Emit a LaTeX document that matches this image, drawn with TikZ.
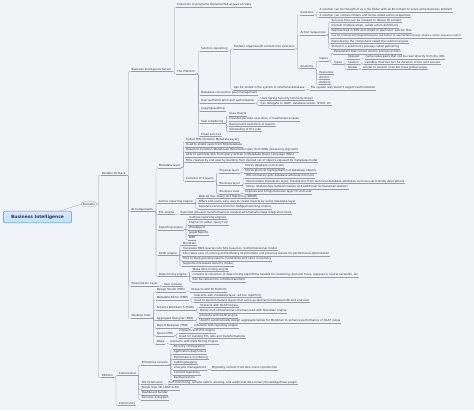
\documentclass[tikz,border=0pt]{standalone}
\usepackage{fontspec}
\newfontfamily\xf{DejaVu Sans}
\definecolor{bg}{HTML}{F2F3F7}
\definecolor{txt}{HTML}{333333}
\definecolor{lc}{HTML}{9A9DA5}
\definecolor{rootb}{HTML}{5E8FC0}
\definecolor{roott}{HTML}{22364F}
\tikzset{
 t/.style={anchor=west, font=\xf\fontsize{2.8}{3.3}\selectfont, text=txt, inner xsep=0.6pt, inner ysep=0.5pt, text height=2.1pt, text depth=0.6pt},
 ln/.style={draw=lc, line width=0.3pt, rounded corners=0.8pt},
 ul/.style={draw=lc, line width=0.3pt},
}
\newcommand\nd[5][south east]{%
  \path (#3.east) ++(4.5,0) coordinate (tmpc);
  \node[t] (#2) at (tmpc |- 0,#4) {#5};
  \draw[ul] (#2.south west) -- (#2.south east);
  \draw[ln] (#3.#1) -- ++(2.25,0) |- (#2.south west);
}
\begin{document}
\begin{tikzpicture}[x=1pt,y=-1pt]
\fill[bg] (0,0) rectangle (474,410);
\useasboundingbox (0,0) rectangle (474,410);
% root
\node[draw=rootb, line width=0.5pt, rounded corners=2pt, top color=white!40!blue!18, bottom color=blue!30!cyan!30, minimum width=68.4pt, minimum height=11.6pt, inner sep=0pt, font=\xf\bfseries\fontsize{4.4}{5}\selectfont, text=roott] (root) at (37.5,217) {Business Intelligence};
\node[draw=lc, line width=0.3pt, rounded corners=1pt, fill=bg, inner xsep=1.2pt, inner ysep=1pt, font=\xf\fontsize{3}{3.6}\selectfont, text=txt] (pent) at (89,204) {Pentaho};
\draw[ln] (root.15) -- (pent.west);

\nd[east]{stack}{pent}{173.5}{Pentaho BI Stack}
\nd[east]{edit}{pent}{375.5}{Editions}

\nd{bis}{stack}{69.5}{Business Intelligence Server}
\nd{bic}{stack}{209.5}{BI Components}
\nd{pres}{stack}{284}{Presentation Layer}
\nd{desk}{stack}{316}{Desktop tools}

\nd{coll}{bis}{5}{Collection of programs implemented as java servlets}
\nd{plat}{bis}{72}{The Platform}

\nd{srep}{plat}{49}{Solution repository}
\nd{dbc}{plat}{93}{Database connection pool management}
\nd{uaa}{plat}{101}{User authentication and authorization}
\nd{logg}{plat}{109}{Logging/auditing}
\nd{task}{plat}{121.5}{Task scheduling}
\nd{mail}{plat}{134.5}{Email services}

\nd{porg}{srep}{47}{Pentaho organizes BI content into solutions}
\nd{stor}{srep}{88}{Can be stored in file system or relational database}
\nd{storA}{stor}{88}{File system way doesn't support authorization}

\nd{sol}{porg}{13}{Solutions}
\nd{act}{porg}{33}{Action Sequences}
\nd{anat}{porg}{66.5}{Anatomy}

\nd{solA}{sol}{10}{A solution can be thought of as a file folder with all BI content to solve some business problem}
\nd{solB}{sol}{15.5}{A solution can contain folders and items called action sequences}

\nd{actA}{act}{20.5}{Services that can be invoked to deliver BI content}
\nd{actB}{act}{25.8}{Contain multiple steps, called action definitions}
\nd{actC}{act}{31}{Represented in XML and stored in plain text .xaction files}
\nd{actD}{act}{36.2}{\fontsize{2.5}{3}\selectfont Can be created with Report Designer, but better to use Pentaho Design studio's action sequence editor}
\nd{actE}{act}{41.4}{Executed by the component called the solution engine}
\nd{actF}{act}{46.6}{Stored in a solution by process called publishing}

\nd{inp}{anat}{59}{Inputs}
\nd{res}{anat}{72.5}{Resources}
\nd{acts}{anat}{77.5}{Actions}
\nd{outp}{anat}{82.5}{Outputs}

\nd{par}{inp}{51.7}{Parameters that can be used in process actions}
\nd{typ}{inp}{62.3}{Types}
\nd{req}{typ}{57}{Request}
\nd{ses}{typ}{62.3}{Session}
\nd{glo}{typ}{67.5}{Global}
\nd{reqA}{req}{57}{name-value pairs that can be read directly from the URL}
\nd{sesA}{ses}{62.3}{variables that live for the duration of the user session}
\nd{gloA}{glo}{67.5}{similar to session ones but have global scope}

\nd{uaaA}{uaa}{98.3}{Uses Spring Security (formerly Acegi)}
\nd{uaaB}{uaa}{103.3}{Can delegate to LDAP, database server, NTLM, etc}

\nd{taskA}{task}{114}{Uses Quartz}
\nd{taskB}{task}{119}{Provides periodic execution of maintenance tasks}
\nd{taskC}{task}{124.3}{Background execution of reports}
\nd{taskD}{task}{129.5}{Scheduling of ETL jobs}

\nd{meta}{bic}{165.7}{Metadata layer}
\nd{adhoc}{bic}{201.3}{Ad hoc reporting engine}
\nd{etl}{bic}{212.5}{ETL engine}
\nd{rep}{bic}{227.7}{Reporting engine}
\nd{olap}{bic}{253.5}{OLAP engine}
\nd{dm}{bic}{274.5}{Data mining engine}

\nd{metaA}{meta}{140}{Called PML (Pentaho Metadata Layer)}
\nd{metaB}{meta}{145}{Used to shield users from SQL/database}
\nd{metaC}{meta}{150}{Based on Common Warehouse Metamodel spec from OMG (www.omg.org/cwm)}
\nd{metaD}{meta}{155}{Able to generate SQL from query written in Metadata Query Language (MQL)}
\nd{metaE}{meta}{160.3}{MQL created by end user by building from desired set of objects exposed by metadata model}
\nd{metaF}{meta}{179}{Consists of 3 layers}

\nd{phys}{metaF}{171}{Physical layer}
\nd{busl}{metaF}{183.3}{Business layer}
\nd{busv}{metaF}{191.8}{Business view}
\nd{physA}{phys}{165.7}{Stores database connection}
\nd{physB}{phys}{171}{Stores physical representation of database objects}
\nd{buslA}{busl}{176.2}{PML ultimately gets database attribute info here}
\nd{buslB}{busl}{181.5}{Intermediate translation layer: translations from technical database attributes to more user-friendly descriptions}
\nd{buslC}{busl}{186.7}{Stores relationships between tables and additional formulas/calculations}
\nd{busvA}{busv}{191.8}{Exposes and brings business layer for end user}

\nd{adhocA}{adhoc}{196.3}{Web Ad Hoc Query and Reporting (WAQR)}
\nd{adhocB}{adhoc}{201.5}{Offers end users easy way to create reports by using metadata layer}
\nd{adhocC}{adhoc}{206.8}{Separate service from full-fledged reporting engine}
\nd{etlA}{etl}{212.5}{Executes jobs and transformations created with Pentaho Data Integration tools}
\nd{repA}{rep}{217.5}{multiple reporting engines}
\nd{repB}{rep}{222.7}{Engine for adhoc query tool}
\nd{repC}{rep}{227.8}{JFreeReport}
\nd{repD}{rep}{232.9}{JasperReports}
\nd{repE}{rep}{238}{BIRT}
\nd{olapA}{olap}{243.3}{Mondrian}
\nd{olapB}{olap}{248.4}{Translates MDX queries into SQL based on multidimensional model}
\nd{olapC}{olap}{253.6}{Also takes care of caching and buffering intermediate and previous results for performance optimization}
\nd{olapD}{olap}{258.8}{Tries to keep previous results, hierarchies and calcs in memory}
\nd{olapE}{olap}{264}{Supports role-based security model}
\nd{dmA}{dm}{269.4}{Weka data mining engine}
\nd{dmB}{dm}{274.6}{consists of collection of data mining algorithms needed for clustering, decision trees, regression, neural networks, etc}
\nd{dmC}{dm}{279.8}{Can be called from a Kettle transform}

\nd{presA}{pres}{284.3}{User console}

\nd{pds}{desk}{290}{Design Studio (PDS)}
\nd{pme}{desk}{298}{Metadata Editor (PME)}
\nd{psw}{desk}{308.2}{Schema Workbench (PSW)}
\nd{pad}{desk}{318.3}{Aggregate Designer (PAD)}
\nd{prd}{desk}{326}{Report Designer (PRD)}
\nd{spoon}{desk}{333.8}{Spoon (PDI)}
\nd{weka}{desk}{342}{Weka}
\nd{pdsA}{pds}{290}{Interacts with BI Platform}
\nd{pmeA}{pme}{295.3}{Interacts with metadata layer, ad hoc reporting}
\nd{pmeB}{pme}{300.5}{Used to build metadata layers that serve as abstraction between db and end user}
\nd{pswA}{psw}{305.5}{Interacts with OLAP engine}
\nd{pswB}{psw}{310.8}{Builds multi dimensional schemas used with Mondrian engine}
\nd{padA}{pad}{315.7}{Interacts with OLAP engine}
\nd{padB}{pad}{321}{Used to automatically design aggregate tables for Mondrian to enhance performance of OLAP cubes}
\nd{prdA}{prd}{326}{Interacts with reporting engine}
\nd{spA}{spoon}{331.2}{Interacts with ETL engine}
\nd{spB}{spoon}{336.4}{Used for building ETL jobs and transformations}
\nd{wekaA}{weka}{342}{Interacts with Data Mining Engine}

\nd{com}{edit}{373.3}{Commercial}
\nd{cmt}{edit}{403.5}{Community}
\nd{ec}{com}{363}{Enterprise console}
\nd{pdi}{com}{382.5}{PDI Extensions}
\nd{sso}{com}{387.6}{Single Sign-On LDAP \& AD}
\nd{dash}{com}{392.7}{Dashboard builder}
\nd{serv}{com}{397.8}{Services \& Support}
\nd{ecA}{ec}{347}{Security configuration}
\nd{ecB}{ec}{352.2}{Application diagnostics}
\nd{ecC}{ec}{357.3}{Performance monitoring}
\nd{ecD}{ec}{362.5}{Auditing/logging}
\nd{ecE}{ec}{367.8}{Lifecycle management}
\nd{ecF}{ec}{373}{Content repository}
\nd{ecG}{ec}{378.2}{Backup/restore}
\nd{ecEA}{ecE}{367.8}{Migrating content from dev->test->production}
\nd{pdiA}{pdi}{382.5}{Perf monitoring, remote admin, alerting, and additional data miner (KnowledgeFlow) plugin}
\end{tikzpicture}
\end{document}
